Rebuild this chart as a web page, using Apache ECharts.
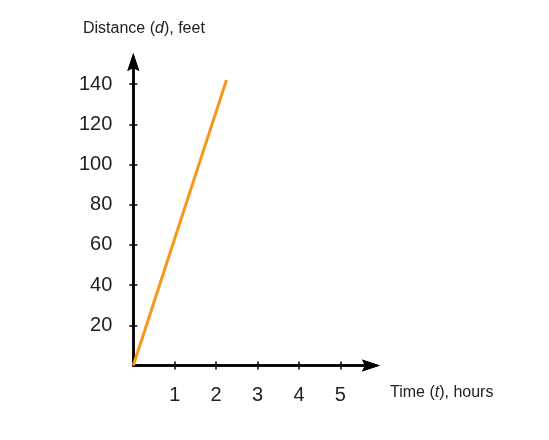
<!DOCTYPE html>
<html>
<head>
<meta charset="utf-8">
<script src="https://cdn.jsdelivr.net/npm/echarts@6/dist/echarts.min.js"></script>
<style>
  html, body { margin: 0; padding: 0; background: #fff; }
  #chart { width: 549px; height: 440px; }
</style>
</head>
<body>
<div id="chart"></div>
<script>
// data
const timeValues = [0, 2.25]
const distanceValues = [0, 142]
const timeTicks = [1, 2, 3, 4, 5]
const distanceTicks = [20, 40, 60, 80, 100, 120, 140]

const chart = echarts.init(document.getElementById('chart'))
const points = timeValues.map((t, i) => [t, distanceValues[i]])

const font = 'Liberation Sans, Arial, sans-serif'
const arrow = 'path://M6,0 L12,18 L6,15 L0,18 Z'
const lineStyle = { color: '#000', width: 2.5 }
const tickStyle = { color: '#000', width: 1.5 }

// base axis, with labels and outward ticks
const xBase = {
  type: 'value', min: 0, max: 5.74, position: 'bottom',
  axisLine: { lineStyle, symbol: ['none', arrow], symbolSize: [12, 18] },
  axisTick: { customValues: timeTicks, length: 4, lineStyle: tickStyle },
  axisLabel: { customValues: timeTicks, margin: 20, fontSize: 20, color: '#222', fontFamily: font },
  splitLine: { show: false }
}
const yBase = {
  type: 'value', min: 0, max: 151, position: 'left',
  axisLine: { lineStyle, symbol: ['none', arrow], symbolSize: [12, 18] },
  axisTick: { customValues: distanceTicks, length: 4, lineStyle: tickStyle },
  axisLabel: { customValues: distanceTicks, margin: 21, fontSize: 20, color: '#222', fontFamily: font },
  splitLine: { show: false }
}

const option = {
  backgroundColor: '#fff',
  animation: false,
  grid: { left: 133.3, right: 178, top: 62, bottom: 74.5, containLabel: false },
  xAxis: [
    xBase,
    // twin axis only for the inner half of the cross ticks
    { ...xBase, axisLabel: { show: false },
      axisTick: { ...xBase.axisTick, inside: true } }
  ],
  yAxis: [
    yBase,
    { ...yBase, axisLabel: { show: false },
      axisTick: { ...yBase.axisTick, inside: true } }
  ],
  graphic: [
    {
      type: 'text', left: 83, top: 21,
      style: {
        text: 'Distance ({i|d}), feet',
        fontSize: 16, fontFamily: font, fill: '#222',
        rich: { i: { fontStyle: 'italic', fontSize: 16, fontFamily: font, fill: '#222' } }
      }
    },
    {
      type: 'text', left: 390, top: 385,
      style: {
        text: 'Time ({i|t}), hours',
        fontSize: 16, fontFamily: font, fill: '#222',
        rich: { i: { fontStyle: 'italic', fontSize: 16, fontFamily: font, fill: '#222' } }
      }
    }
  ],
  series: [
    {
      type: 'line',
      data: points,
      showSymbol: false,
      symbol: 'none',
      lineStyle: { color: '#F7981D', width: 3 }
    }
  ]
}

chart.setOption(option)
</script>
</body>
</html>
